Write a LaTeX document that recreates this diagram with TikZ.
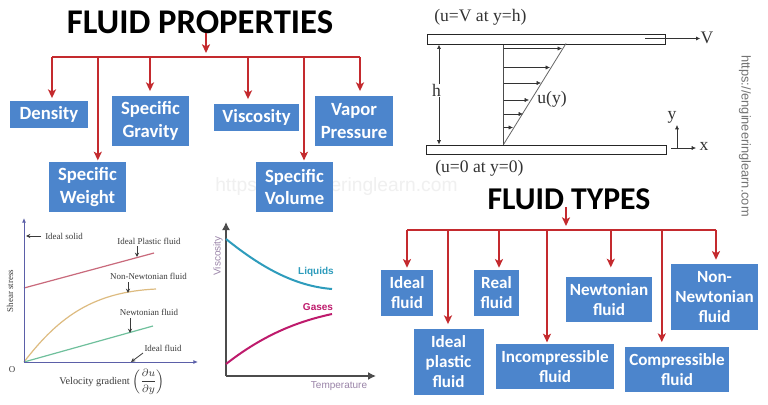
\documentclass[tikz,border=0pt]{standalone}
\usepackage{fontspec}
\setmainfont{Carlito}
\newfontfamily\serifchart{Liberation Serif}
\newfontfamily\sanschart{Liberation Sans}
\usetikzlibrary{arrows.meta}
\definecolor{boxblue}{HTML}{4C85CC}
\definecolor{linkred}{HTML}{C42A2E}
\definecolor{axisblue}{HTML}{5B5FA8}
\definecolor{inkgray}{HTML}{3A3A3A}
\definecolor{liquidc}{HTML}{2E9CBC}
\definecolor{gasc}{HTML}{BE1A6C}
\definecolor{labelpurple}{HTML}{9A84A8}
\definecolor{plasticc}{HTML}{C96A7C}
\definecolor{nonnewtc}{HTML}{DDBB80}
\definecolor{newtc}{HTML}{6FC09C}
\tikzset{
  x=0.75pt,y=-0.75pt,
  bx/.style 2 args={minimum width=#1*0.75pt,minimum height=#2*0.75pt},
  card/.style={fill=boxblue,text=white,inner sep=0pt,align=center,
    font=\fontsize{14}{16.7}\selectfont\bfseries},
  typecard/.style={card,font=\fontsize{12.8}{15}\selectfont\bfseries},
  heading/.style={inner sep=0pt,font=\fontsize{26}{28}\selectfont\bfseries,text=black},
  typeheading/.style={heading,font=\fontsize{23.8}{28}\selectfont\bfseries},
  bus/.style={draw=linkred,line width=1.5pt},
  drop/.style={draw=linkred,line width=1.5pt,-{Stealth[length=6.5pt,width=6pt,inset=1.6pt]}},
  plate/.style={draw=black!85,line width=0.9pt,fill=white,inner sep=0pt},
  thinarrow/.style={draw=black!80,line width=0.45pt,-{Latex[length=3.2pt,width=3pt]}},
  flowlab/.style={inner sep=0pt,text=black!80,font=\fontsize{13.2}{15}\selectfont\serifchart},
  chartlab/.style={inner sep=0pt,text=inkgray,font=\fontsize{6.7}{8}\selectfont\serifchart},
  chartarrow/.style={draw=inkgray,line width=0.6pt,-{Stealth[length=3.2pt,width=3pt]}},
  axisline/.style={draw=axisblue,line width=0.7pt,-{Latex[length=3.5pt,width=3pt]}},
  axisdark/.style={draw=black!70,line width=1.1pt,-{Latex[length=6pt,width=6pt]}},
  watermark/.style={inner sep=0pt,text=gray!12,font=\fontsize{14.4}{17}\selectfont\sanschart},
  sidemark/.style={inner sep=0pt,text=black!55,rotate=-90,font=\fontsize{9.6}{11}\selectfont\sanschart},
}
\begin{document}
\begin{tikzpicture}
\useasboundingbox (0,0) rectangle (768,404);
\fill[white] (0,0) rectangle (768,404);

% watermarks
\node[watermark,anchor=west] (wm) at (215,187) {https://engineeringlearn.com};
\node[sidemark] (sm) at (745,136) {https://engineeringlearn.com};

% ---------- fluid properties
\node[heading] (propt) at (200,22.5) {FLUID PROPERTIES};
\node[card,bx={78}{27}] (density) at (49,114.5) {Density};
\node[card,bx={77}{50}] (sgrav) at (150.5,121) {Specific\\Gravity};
\node[card,bx={85}{27}] (visc) at (256.5,117.5) {Viscosity};
\node[card,bx={78}{50}] (vapor) at (354,121) {Vapor\\Pressure};
\node[card,bx={77}{50}] (sweight) at (87.5,187) {Specific\\Weight};
\node[card,bx={77}{50}] (svol) at (294.5,187) {Specific\\Volume};

\coordinate (propin) at (206,33);
\coordinate (propjoin) at (206,53);
\coordinate (pa) at (52,57);
\coordinate (pb) at (97.8,57);
\coordinate (pc) at (150,57);
\coordinate (pd) at (248,57);
\coordinate (pe) at (304,57);
\coordinate (pf) at (360,57);
\draw[bus] (pa) -- (pf);
\draw[drop] (propin) -- (propjoin);
\draw[drop,shorten >=2pt] (pa) -- (pa |- density.north);
\draw[drop,shorten >=1pt] (pb) -- (pb |- sweight.north);
\draw[drop,shorten >=3.5pt] (pc) -- (pc |- sgrav.north);
\draw[drop,shorten >=3.5pt] (pd) -- (pd |- visc.north);
\draw[drop,shorten >=1pt] (pe) -- (pe |- svol.north);
\draw[drop,shorten >=3.5pt] (pf) -- (pf |- vapor.north);

% ---------- fluid types
\node[typeheading] (typet) at (569,199) {FLUID TYPES};
\node[typecard,bx={52}{46}] (ideal) at (407,293) {Ideal\\fluid};
\node[typecard,bx={70}{66}] (iplastic) at (448.5,362) {Ideal\\plastic\\fluid};
\node[typecard,bx={45}{46}] (real) at (496.5,293) {Real\\fluid};
\node[typecard,bx={86}{45}] (newt) at (609,299.5) {Newtonian\\fluid};
\node[typecard,bx={87}{66}] (nonnewt) at (714.5,297) {Non-\\Newtonian\\fluid};
\node[typecard,bx={118}{45}] (incomp) at (555,366.5) {Incompressible\\fluid};
\node[typecard,bx={104}{45}] (comp) at (677,369.5) {Compressible\\fluid};

\coordinate (typein) at (566,207);
\coordinate (typejoin) at (566,226);
\coordinate (ta) at (407,229.5);
\coordinate (tb) at (448,229.5);
\coordinate (tc) at (499,229.5);
\coordinate (td) at (547,229.5);
\coordinate (te) at (610.8,229.5);
\coordinate (tf) at (661.8,229.5);
\coordinate (tg) at (716,229.5);
\draw[bus] (ta) -- (tg);
\draw[drop] (typein) -- (typejoin);
\draw[drop,shorten >=1.5pt] (ta) -- (ta |- ideal.north);
\draw[drop,shorten >=3.5pt] (tb) -- (tb |- iplastic.north);
\draw[drop,shorten >=1.5pt] (tc) -- (tc |- real.north);
\draw[drop,shorten >=1pt] (td) -- (td |- incomp.north);
\draw[drop,shorten >=7pt] (te) -- (te |- newt.north);
\draw[drop,shorten >=3.5pt] (tf) -- (tf |- comp.north);
\draw[drop,shorten >=3pt] (tg) -- (tg |- nonnewt.north);

% ---------- shear flow between plates
\node[plate,anchor=north west,bx={238}{9.5}] (topplate) at (427,34) {};
\node[plate,anchor=north west,bx={239.5}{9.5}] (botplate) at (426,144.5) {};
\node[flowlab,anchor=west] (utop) at (434,17) {(u=V at y=h)};
\node[flowlab,anchor=west] (ubot) at (435,168) {(u=0 at y=0)};
\node[flowlab] (hlab) at (436.5,90.5) {h};
\node[flowlab] (uy) at (552,99) {u(y)};
\node[flowlab] (vlab) at (707,38) {V};
\node[flowlab] (ylab) at (672,117) {y};
\node[flowlab] (xlab) at (704,146) {x};
\coordinate (hx) at (439,90);
\draw[thinarrow] (hx |- hlab.north) -- (hx |- topplate.south);
\draw[thinarrow] (hx |- hlab.south) -- (hx |- botplate.north);
\coordinate (prof) at (503.5,100);
\coordinate (slantb) at (503.5,144.5);
\coordinate (slantt) at (566,43.5);
\draw[black!70,line width=0.5pt] (prof |- topplate.south) -- (prof |- botplate.north);
\draw[black!60,line width=0.6pt] (slantb) -- (slantt);
\foreach \yy/\xx in {48.5/562,67.5/550,83/541,100/529,114/523,127.5/513}
  \draw[thinarrow,line width=0.35pt] (503.5,\yy) -- (\xx,\yy);
\coordinate (vstart) at (645,38.5);
\draw[thinarrow,line width=0.7pt] (vstart) -- (vlab.west |- vstart);
\coordinate (xyo) at (677,148);
\draw[thinarrow] (xyo) -- (677,125);
\draw[thinarrow] (671,148) -- (696,148);

% ---------- shear stress chart
\coordinate (oa) at (24,362);
\coordinate (ytop) at (24,218);
\coordinate (xend) at (198,362);
\draw[plasticc,line width=0.9pt] (24,288) -- (154,253);
\draw[nonnewtc,line width=0.9pt] (oa) .. controls (60,315) and (95,292) .. (156,289);
\draw[newtc,line width=0.9pt] (oa) -- (153,326);
\draw[axisline] (oa) -- (ytop);
\draw[axisline] (oa) -- (xend);
\node[chartlab,anchor=west] (lsolid) at (45,236) {Ideal solid};
\node[chartlab] (lplastic) at (149,241) {Ideal Plastic fluid};
\node[chartlab] (lnon) at (148.5,276) {Non-Newtonian fluid};
\node[chartlab] (lnewt) at (149,312) {Newtonian fluid};
\node[chartlab] (lideal) at (163,348) {Ideal fluid};
\node[chartlab] (lo) at (12,369.5) {O};
\node[chartlab,rotate=90] (lshear) at (10,291) {Shear stress};
\node[chartlab,font=\fontsize{7.7}{9}\selectfont\serifchart] (lvel) at (112,382) {Velocity gradient $\left(\displaystyle\frac{\partial u}{\partial y}\right)$};
\draw[chartarrow] (lsolid.west) ++(-4,0) -- (26,236);
\draw[chartarrow] (137,246) -- (137,257);
\draw[chartarrow] (128,282) -- (128,293);
\draw[chartarrow] (130,318) -- (130,333);
\draw[chartarrow] (143,353) -- (131,362);

% ---------- viscosity chart
\coordinate (ob) at (226,376);
\coordinate (vtop) at (226,222);
\coordinate (vend) at (376,376);
\draw[axisdark] (ob) -- (vtop);
\draw[axisdark] (ob) -- (vend);
\draw[liquidc,line width=1.5pt] (226,239) .. controls (262,268) and (295,286) .. (332,289);
\draw[gasc,line width=1.5pt] (226,364) .. controls (262,336) and (295,322) .. (332,314);
\node[inner sep=0pt,text=liquidc,font=\fontsize{7.5}{9}\selectfont\sanschart\bfseries] (lliq) at (316,272) {Liquids};
\node[inner sep=0pt,text=gasc,font=\fontsize{7.5}{9}\selectfont\sanschart\bfseries] (lgas) at (318,307) {Gases};
\node[inner sep=0pt,text=labelpurple,rotate=90,font=\fontsize{7.5}{9}\selectfont\sanschart] (lvisc) at (218,256) {Viscosity};
\node[inner sep=0pt,text=labelpurple,font=\fontsize{7.5}{9}\selectfont\sanschart] (ltemp) at (339,386) {Temperature};
\end{tikzpicture}
\end{document}
